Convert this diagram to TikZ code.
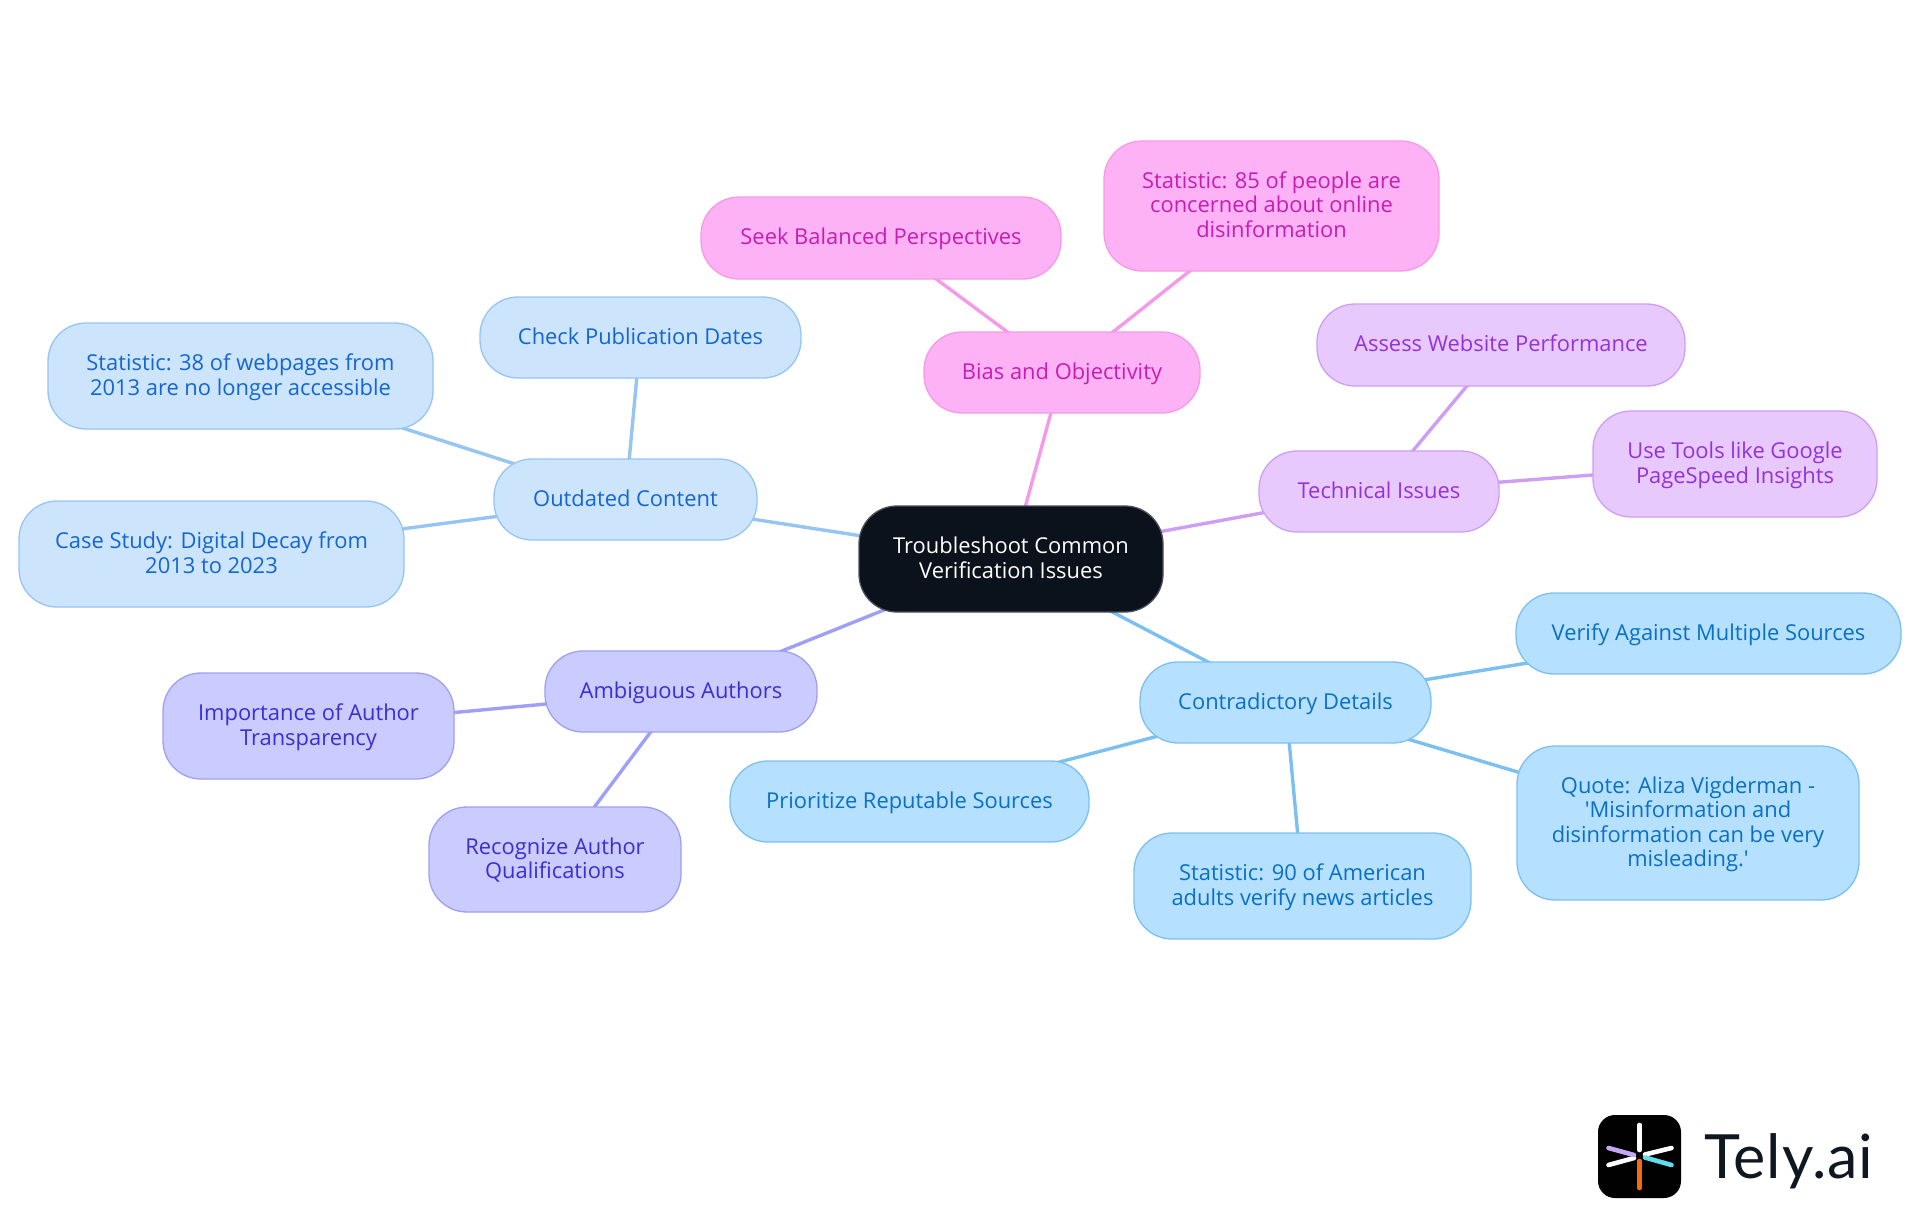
\documentclass[tikz,border=0pt]{standalone}
\usepackage{fontspec}
\newfontfamily\bodyfont{Open Sans}
\newfontfamily\logofont{Lato}[LetterSpace=1.5]
\usetikzlibrary{backgrounds}
\definecolor{rootfill}{HTML}{0B121C}
\definecolor{rootline}{HTML}{4A4F57}
\definecolor{bluefill}{HTML}{CDE4FD}
\definecolor{blueline}{HTML}{96C5F3}
\definecolor{bluetext}{HTML}{1466D2}
\definecolor{pinkfill}{HTML}{FDB2F5}
\definecolor{pinkline}{HTML}{F49AE6}
\definecolor{pinktext}{HTML}{C81DB4}
\definecolor{purpfill}{HTML}{E8C9FE}
\definecolor{purpline}{HTML}{CD9EF3}
\definecolor{purptext}{HTML}{9432DA}
\definecolor{skyfill}{HTML}{B5E0FF}
\definecolor{skyline}{HTML}{7CC0F2}
\definecolor{skytext}{HTML}{0A70C4}
\definecolor{indfill}{HTML}{CACBFF}
\definecolor{indline}{HTML}{9E9FF5}
\definecolor{indtext}{HTML}{3A2FD2}
\definecolor{logoink}{HTML}{0F1720}
\definecolor{logopurple}{HTML}{C4A8F5}
\definecolor{logocyan}{HTML}{5FDDEE}
\definecolor{logoorange}{HTML}{F26A12}
\newcommand{\linestrut}{\rule[-5.35pt]{0pt}{24.5pt}}
\newcommand{\nl}{\linestrut\\\linestrut}
\tikzset{
  base/.style={rectangle,rounded corners=38pt,line width=1.3pt,inner sep=0pt,align=center,
    font=\bodyfont\fontsize{21.9}{24.5}\selectfont,
    execute at begin node=\linestrut,execute at end node=\linestrut},
  rootbox/.style={base,draw=rootline,fill=rootfill,text=white},
  bluebox/.style={base,draw=blueline,fill=bluefill,text=bluetext},
  pinkbox/.style={base,draw=pinkline,fill=pinkfill,text=pinktext},
  purpbox/.style={base,draw=purpline,fill=purpfill,text=purptext},
  skybox/.style={base,draw=skyline,fill=skyfill,text=skytext},
  indbox/.style={base,draw=indline,fill=indfill,text=indtext},
  link/.style={line width=3.4pt},
  spoke/.style={line width=4.6pt,line cap=round},
}
% name, style, x0, x1, y0, y1, text
\newcommand{\bx}[7]{\node[#2,minimum width={(#4)-(#3)},minimum height={(#6)-(#5)}] (#1) at ({((#3)+(#4))/2},{((#5)+(#6))/2}) {#7};}
\begin{document}
\begin{tikzpicture}[x=1pt,y=-1pt]
\useasboundingbox (0,0) rectangle (1920,1215);
\bx{root}{rootbox}{859}{1163}{506}{612}{Troubleshoot Common\nl Verification Issues}
\bx{out}{bluebox}{494}{757}{459}{540}{Outdated Content}
\bx{chk}{bluebox}{480}{801}{297}{378}{Check Publication Dates}
\bx{s38}{bluebox}{48}{433}{323}{429}{Statistic: 38 of webpages from\nl 2013 are no longer accessible}
\bx{cas}{bluebox}{19}{404}{501}{607}{Case Study: Digital Decay from\nl 2013 to 2023}
\bx{amb}{indbox}{545}{817}{651}{732}{Ambiguous Authors}
\bx{imp}{indbox}{163}{454}{673}{779}{Importance of Author\nl Transparency}
\bx{rec}{indbox}{429}{681}{807}{912}{Recognize Author\nl Qualifications}
\bx{bia}{pinkbox}{924}{1200}{332}{413}{Bias and Objectivity}
\bx{see}{pinkbox}{701}{1061}{197}{279}{Seek Balanced Perspectives}
\bx{s85}{pinkbox}{1104}{1439}{141}{271}{Statistic: 85 of people are\nl concerned about online\nl disinformation}
\bx{tec}{purpbox}{1259}{1499}{451}{532}{Technical Issues}
\bx{ass}{purpbox}{1317}{1685}{304}{386}{Assess Website Performance}
\bx{use}{purpbox}{1593}{1877}{411}{517}{Use Tools like Google\nl PageSpeed Insights}
\bx{con}{skybox}{1140}{1431}{662}{743}{Contradictory Details}
\bx{ver}{skybox}{1516}{1901}{593}{674}{Verify Against Multiple Sources}
\bx{quo}{skybox}{1517}{1859}{746}{900}{Quote: Aliza Vigderman -\nl 'Misinformation and\nl disinformation can be very\nl misleading.'}
\bx{s90}{skybox}{1134}{1471}{833}{939}{Statistic: 90 of American\nl adults verify news articles}
\bx{pri}{skybox}{730}{1089}{761}{842}{Prioritize Reputable Sources}
\begin{pgfonlayer}{background}
\draw[link,blueline] (root.center) -- (out.center);
\draw[link,blueline] (out.center) -- (chk.center);
\draw[link,blueline] (out.center) -- (s38.center);
\draw[link,blueline] (out.center) -- (cas.center);
\draw[link,indline] (root.center) -- (amb.center);
\draw[link,indline] (amb.center) -- (imp.center);
\draw[link,indline] (amb.center) -- (rec.center);
\draw[link,pinkline] (root.center) -- (bia.center);
\draw[link,pinkline] (bia.center) -- (see.center);
\draw[link,pinkline] (bia.center) -- (s85.center);
\draw[link,purpline] (root.center) -- (tec.center);
\draw[link,purpline] (tec.center) -- (ass.center);
\draw[link,purpline] (tec.center) -- (use.center);
\draw[link,skyline] (root.center) -- (con.center);
\draw[link,skyline] (con.center) -- (ver.center);
\draw[link,skyline] (con.center) -- (quo.center);
\draw[link,skyline] (con.center) -- (s90.center);
\draw[link,skyline] (con.center) -- (pri.center);
\end{pgfonlayer}
% logo
\fill[black!95!logoink,rounded corners=17pt] (1598,1115) rectangle (1681,1198);
\draw[spoke,white] (1639.5,1125) -- (1639.5,1150);
\draw[spoke,white] (1634,1158) -- (1608.5,1165);
\draw[spoke,white] (1645,1154.5) -- (1671.5,1148);
\draw[spoke,logopurple] (1608.5,1148) -- (1634,1155);
\draw[spoke,logocyan] (1645,1157.5) -- (1671.5,1165);
\draw[spoke,logoorange] (1639.5,1161) -- (1639.5,1188);
\node[anchor=base west,inner sep=0pt,text=logoink,font=\logofont\fontsize{61}{61}\selectfont] (brand) at (1704,1178) {Tely.ai};
\end{tikzpicture}
\end{document}
